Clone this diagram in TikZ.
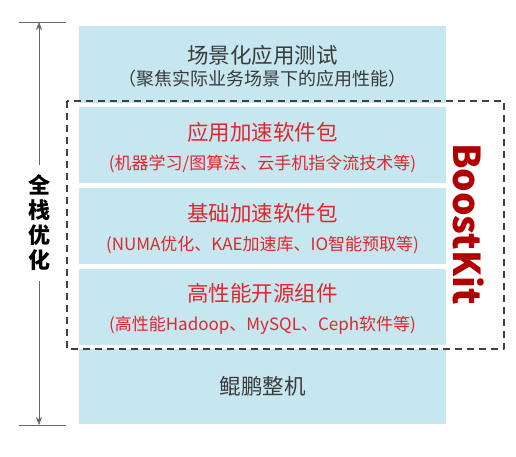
\documentclass[tikz,border=0pt]{standalone}
\usepackage{fontspec}
\usetikzlibrary{arrows.meta}
\setmainfont{Noto Sans CJK SC}
\definecolor{layerfill}{HTML}{C6E7EF}
\definecolor{redtext}{HTML}{E1262D}
\definecolor{darktext}{HTML}{3A3A3A}
\definecolor{boostred}{HTML}{B20000}
\definecolor{framegray}{HTML}{404040}
\begin{document}
\begin{tikzpicture}[x=1pt,y=-1pt,line join=round,>={Stealth[length=8pt,width=6pt]},thick]
        \tikzset{layer/.style={fill=layerfill,minimum width=367pt,minimum height=76pt,inner sep=0pt},
                 ttl/.style={inner sep=0pt,font=\fontsize{21.5pt}{24pt}\selectfont},
                 sub/.style={inner sep=0pt,font=\fontsize{17pt}{20pt}\selectfont}}
        \useasboundingbox (0,0) rectangle (516,457);
        \node[layer,minimum height=77pt] (scene) at (262.5,64.5) {};
        \node[ttl,text=darktext] (scene-t) at ([yshift=9.5pt]scene.center) {场景化应用测试};
        \node[sub,text=darktext,font=\fontsize{18pt}{20pt}\selectfont] (scene-s) at ([yshift=-14.5pt]scene.center) {（聚焦实际业务场景下的应用性能）};
        \foreach \n/\y/\t/\s in {appkit/145/应用加速软件包/{(机器学习/图算法、云手机指令流技术等)},
                                basekit/226/基础加速软件包/{(NUMA优化、KAE加速库、IO智能预取等)},
                                oss/306.5/高性能开源组件/{(高性能Hadoop、MySQL、Ceph软件等)}}{
            \node[layer] (\n) at (262.5,\y) {};
            \node[ttl,text=redtext] (\n-t) at ([yshift=13pt]\n.center) {\t};
            \node[sub,text=redtext] (\n-s) at ([yshift=-18.5pt]\n.center) {\s};
        }
        \node[layer,minimum height=75pt,text=darktext,font=\fontsize{21.5pt}{24pt}\selectfont] (kunpeng) at (262.5,386.5) {鲲鹏整机};
        \draw[framegray,line width=1.8pt,dash pattern=on 7pt off 5pt] (67,101) rectangle (504,349);
        \node[rotate=-90,text=boostred,font=\bfseries\fontsize{37pt}{40pt}\selectfont] (boost) at (469,224) {BoostKit};
        \coordinate (topl) at (19,22);
        \coordinate (topr) at (66,22);
        \coordinate (botl) at (19,425);
        \coordinate (botr) at (66,425);
        \coordinate (top) at (39,22);
        \coordinate (bot) at (39,425);
        \node[align=center,inner sep=0pt,font=\bfseries\fontsize{22pt}{25pt}\selectfont] (full) at (39,223) {全\\栈\\优\\化};
        \draw[gray!80!black,thin] (topl)--(topr) (botl)--(botr);
        \draw[->,gray!80!black,thin] ([yshift=10pt]full.north)--(top);
        \draw[->,gray!80!black,thin] ([yshift=-10pt]full.south)--(bot);
    \end{tikzpicture}
\end{document}
